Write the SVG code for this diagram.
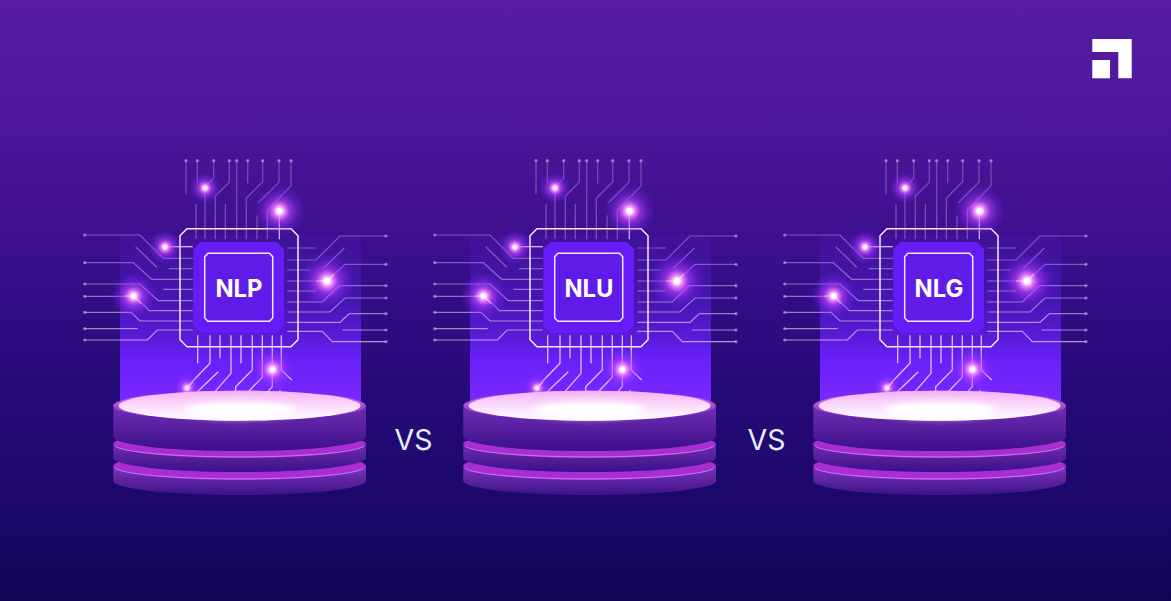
<svg xmlns="http://www.w3.org/2000/svg" width="1171" height="601" viewBox="0 0 1171 601">
<style>
.t{fill:none;stroke:url(#traceGrad);stroke-width:1.2}
.b{fill:none;stroke:#f6e4ff;stroke-opacity:.85;stroke-width:1.25}
.d{fill:#e4d0ff;fill-opacity:.5}
.s{fill:none;stroke:#fff;stroke-width:1.2;stroke-opacity:.5}
.lb{font-family:"Inter","Liberation Sans",sans-serif;font-weight:700;font-size:23.8px;fill:#fff;text-anchor:middle}
.vs{font-family:"Inter","Liberation Sans",sans-serif;font-weight:400;font-size:28.5px;fill:#e6eeff;text-anchor:middle}
</style>
<defs>
<linearGradient id="bg" x1="0" y1="0" x2="0" y2="1">
<stop offset="0" stop-color="#571ca1"/><stop offset=".18" stop-color="#4f189c"/><stop offset=".4" stop-color="#3c0f8e"/><stop offset=".65" stop-color="#260a78"/><stop offset=".85" stop-color="#1a0868"/><stop offset="1" stop-color="#100555"/>
</linearGradient>
<linearGradient id="beam" x1="0" y1="0" x2="0" y2="1">
<stop offset="0" stop-color="#5a20d8" stop-opacity=".12"/><stop offset=".4" stop-color="#5f1ee6" stop-opacity=".5"/><stop offset=".72" stop-color="#6a20fa"/><stop offset="1" stop-color="#7a2cff"/>
</linearGradient>
<linearGradient id="traceGrad" gradientUnits="userSpaceOnUse" x1="0" y1="160" x2="0" y2="392">
<stop offset="0" stop-color="#e2ccff" stop-opacity=".3"/><stop offset=".45" stop-color="#e2ccff" stop-opacity=".4"/><stop offset=".75" stop-color="#ecdcff" stop-opacity=".62"/><stop offset="1" stop-color="#ffd8ff" stop-opacity=".95"/>
</linearGradient>
<radialGradient id="glow">
<stop offset="0" stop-color="#fff"/><stop offset=".09" stop-color="#fff"/><stop offset=".2" stop-color="#f590ff" stop-opacity=".95"/><stop offset=".42" stop-color="#c044ff" stop-opacity=".6"/><stop offset=".7" stop-color="#9030ff" stop-opacity=".28"/><stop offset="1" stop-color="#8020ff" stop-opacity="0"/>
</radialGradient>
<linearGradient id="top" x1="0" y1="0" x2="0" y2="1">
<stop offset="0" stop-color="#f4b0f6"/><stop offset=".5" stop-color="#fbdcfc"/><stop offset="1" stop-color="#fff"/>
</linearGradient>
<linearGradient id="rim" x1="0" y1="0" x2="0" y2="1">
<stop offset="0" stop-color="#e090f0"/><stop offset=".55" stop-color="#a844d4"/><stop offset="1" stop-color="#8a34c4"/>
</linearGradient>
<linearGradient id="side1" gradientUnits="userSpaceOnUse" x1="0" y1="408" x2="0" y2="451">
<stop offset="0" stop-color="#6f2cb4"/><stop offset="1" stop-color="#3a1088"/>
</linearGradient>
<linearGradient id="side2" gradientUnits="userSpaceOnUse" x1="0" y1="448" x2="0" y2="473">
<stop offset="0" stop-color="#6a28ac"/><stop offset="1" stop-color="#380f86"/>
</linearGradient>
<linearGradient id="side3" gradientUnits="userSpaceOnUse" x1="0" y1="470" x2="0" y2="495">
<stop offset="0" stop-color="#7530b4"/><stop offset="1" stop-color="#3c1288"/>
</linearGradient>
<filter id="soft" x="-30%" y="-60%" width="160%" height="220%"><feGaussianBlur stdDeviation="3"/></filter>
<filter id="line" x="-5%" y="-5%" width="110%" height="110%"><feGaussianBlur stdDeviation=".3"/></filter>

<g id="beamShape"><rect x="120" y="235" width="241" height="175" fill="url(#beam)"/></g>

<g id="traceSet" filter="url(#line)">
<path class="t" d="M186 160.700V194M197.300 160.700V183M213.700 160.700V178.300L205 187.300V238.700M229.300 160.700V182.300L215.300 196V239.300M236.700 160.700V239.300M247.700 160.700V183.300M262.700 160.700V181.700L246.300 198.300V239.300M279 160.700V182.300L258.300 202.700M291 160.700V186L267.300 210V239.300M196 204V238.700M225.300 204V239.300M257 215.300V239.300"/>
<path class="b" d="M279.300 211.700V239.300"/>
<path class="t" d="M84.700 235H140L163.300 258.300H192.700M135.700 246.700L156.700 267.300M168.700 268.700H192.700M84.700 262.700H133.300L151.700 279.300H192.700M163.300 289.300H192.700M84.700 284H140L158.300 300.700H192.700M84.700 296.300H135L149.300 310.700H192.700M84.700 312.300H131L140 321H192.700M84.700 328.700H137.700M84.700 340H147.300L157.300 330H192.700"/>
<path class="b" d="M165 246.700H192.700" stroke-opacity=".45"/>
<path class="t" d="M287.300 248H316M287.300 260H316L340 236H386M323.300 268.300L344.300 248.300M287.300 270H310.700M287.300 281H327.300L345 264.300H386M287.300 291H316M287.300 302H322.300L339.300 285.700H386M287.300 312H330L345 298H386M287.300 322.300H340L349.300 313.700H386M342 330H386M287.300 331.300H322.300L332.300 341.700H386"/>
<path class="b" d="M197.700 335.300V363.300M210 335.300V363.300L187.300 386.700M220 335.300V358.300M218.300 371.700L197.300 391.700M231 335.300V373.300L215 391.700M241 335.300V363.300M252.300 335.300V370L235.700 386.700V391.700M262.300 335.300V377.300L248.300 391.700M272.300 335.300V386.700L267.700 391.700M281.300 335.300V370L291.700 380M280 390V392.700" stroke-opacity=".8"/>
<g class="d">
<circle cx="186" cy="160.700" r="1.600"/><circle cx="197.300" cy="160.700" r="1.600"/><circle cx="213.700" cy="160.700" r="1.600"/><circle cx="229.300" cy="160.700" r="1.600"/><circle cx="236.700" cy="160.700" r="1.600"/><circle cx="247.700" cy="160.700" r="1.600"/><circle cx="262.700" cy="160.700" r="1.600"/><circle cx="279" cy="160.700" r="1.600"/><circle cx="291" cy="160.700" r="1.600"/>
<circle cx="84.700" cy="235" r="1.600"/><circle cx="84.700" cy="262.700" r="1.600"/><circle cx="84.700" cy="284" r="1.600"/><circle cx="84.700" cy="296.300" r="1.600"/><circle cx="84.700" cy="312.300" r="1.600"/><circle cx="84.700" cy="328.700" r="1.600"/><circle cx="84.700" cy="340" r="1.600"/>
<circle cx="386" cy="236" r="1.600"/><circle cx="386" cy="264.300" r="1.600"/><circle cx="386" cy="285.700" r="1.600"/><circle cx="386" cy="298" r="1.600"/><circle cx="386" cy="313.700" r="1.600"/><circle cx="386" cy="330" r="1.600"/><circle cx="386" cy="341.700" r="1.600"/>
</g>
</g>

<g id="chip">
<path d="M200.300 242H277L284 249V325.700L277 332.700H200.300L193.300 325.700V249Z" fill="#661cf6"/>
<path d="M187 228.700H291L298 235.700V339.700L291 346.700H187L180 339.700V235.700Z" fill="none" stroke="#f6ecff" stroke-width="1.500"/>
<path d="M208 253.300H269.400L272.700 256.600V318L269.400 321.300H208L204.700 318V256.600Z" fill="#5f1be8" stroke="#f3e6ff" stroke-width="1.500"/>
</g>

<g id="sparks">
<circle cx="205" cy="188" r="16" fill="url(#glow)"/>
<circle cx="279.500" cy="211" r="26" fill="url(#glow)"/>
<circle cx="165" cy="247" r="17" fill="url(#glow)"/>
<circle cx="133.500" cy="296" r="23" fill="url(#glow)"/>
<circle cx="327" cy="281" r="28" fill="url(#glow)"/>
<circle cx="272.500" cy="369.500" r="23" fill="url(#glow)"/>
<circle cx="187" cy="388" r="15" fill="url(#glow)"/>
<path class="s" d="M133.500 296H124M133.500 296L141 303.500M327 281H316M327 281L334 274M187 388L193 382"/>
</g>

<g id="stand">
<path d="M113.300 466V481A126.300 14 0 0 0 366 481V466Z" fill="url(#side3)"/>
<ellipse cx="239.600" cy="466" rx="126.300" ry="14" fill="#a82ed4"/>
<path d="M115 468A125 12 0 0 0 364 468" fill="none" stroke="#e6a8f4" stroke-width="1" stroke-opacity=".6"/>
<path d="M113.300 444V458A126.300 14 0 0 0 366 458V444Z" fill="url(#side2)"/>
<ellipse cx="239.600" cy="444" rx="126.300" ry="14" fill="#a82ed4"/>
<path d="M115 446A125 12 0 0 0 364 446" fill="none" stroke="#e6a8f4" stroke-width="1" stroke-opacity=".6"/>
<path d="M113.300 405V437A126.300 14 0 0 0 366 437V405Z" fill="url(#side1)"/>
<ellipse cx="239.600" cy="405.700" rx="126.300" ry="15" fill="url(#rim)"/>
<ellipse cx="239.600" cy="405.700" rx="121" ry="15" fill="url(#top)"/>
<ellipse cx="240" cy="410" rx="56" ry="8.500" fill="#fff" filter="url(#soft)"/>
</g>
</defs>

<rect id="background" width="1171" height="601" fill="url(#bg)"/>

<g id="logo" fill="#fff">
<path d="M1092.300 39H1131.700V78.300H1118.300V52H1092.300Z"/>
<rect x="1092.300" y="60" width="17.700" height="18.300"/>
</g>

<g id="beams">
<use href="#beamShape"/>
<use href="#beamShape" x="350"/>
<use href="#beamShape" x="700"/>
</g>

<g id="connectors">
<use href="#traceSet"/>
<use href="#traceSet" x="350"/>
<use href="#traceSet" x="700"/>
</g>

<g id="node-nlp">
<use href="#chip"/><use href="#sparks"/><use href="#stand"/>
<text class="lb" x="239" y="296.700">NLP</text>
</g>
<g id="node-nlu">
<use href="#chip" x="350"/><use href="#sparks" x="350"/><use href="#stand" x="350"/>
<text class="lb" x="589" y="296.700">NLU</text>
</g>
<g id="node-nlg">
<use href="#chip" x="700"/><use href="#sparks" x="700"/><use href="#stand" x="700"/>
<text class="lb" x="939" y="296.700">NLG</text>
</g>

<text class="vs" x="413.500" y="450.300">VS</text>
<text class="vs" x="766.500" y="450.300">VS</text>
</svg>
